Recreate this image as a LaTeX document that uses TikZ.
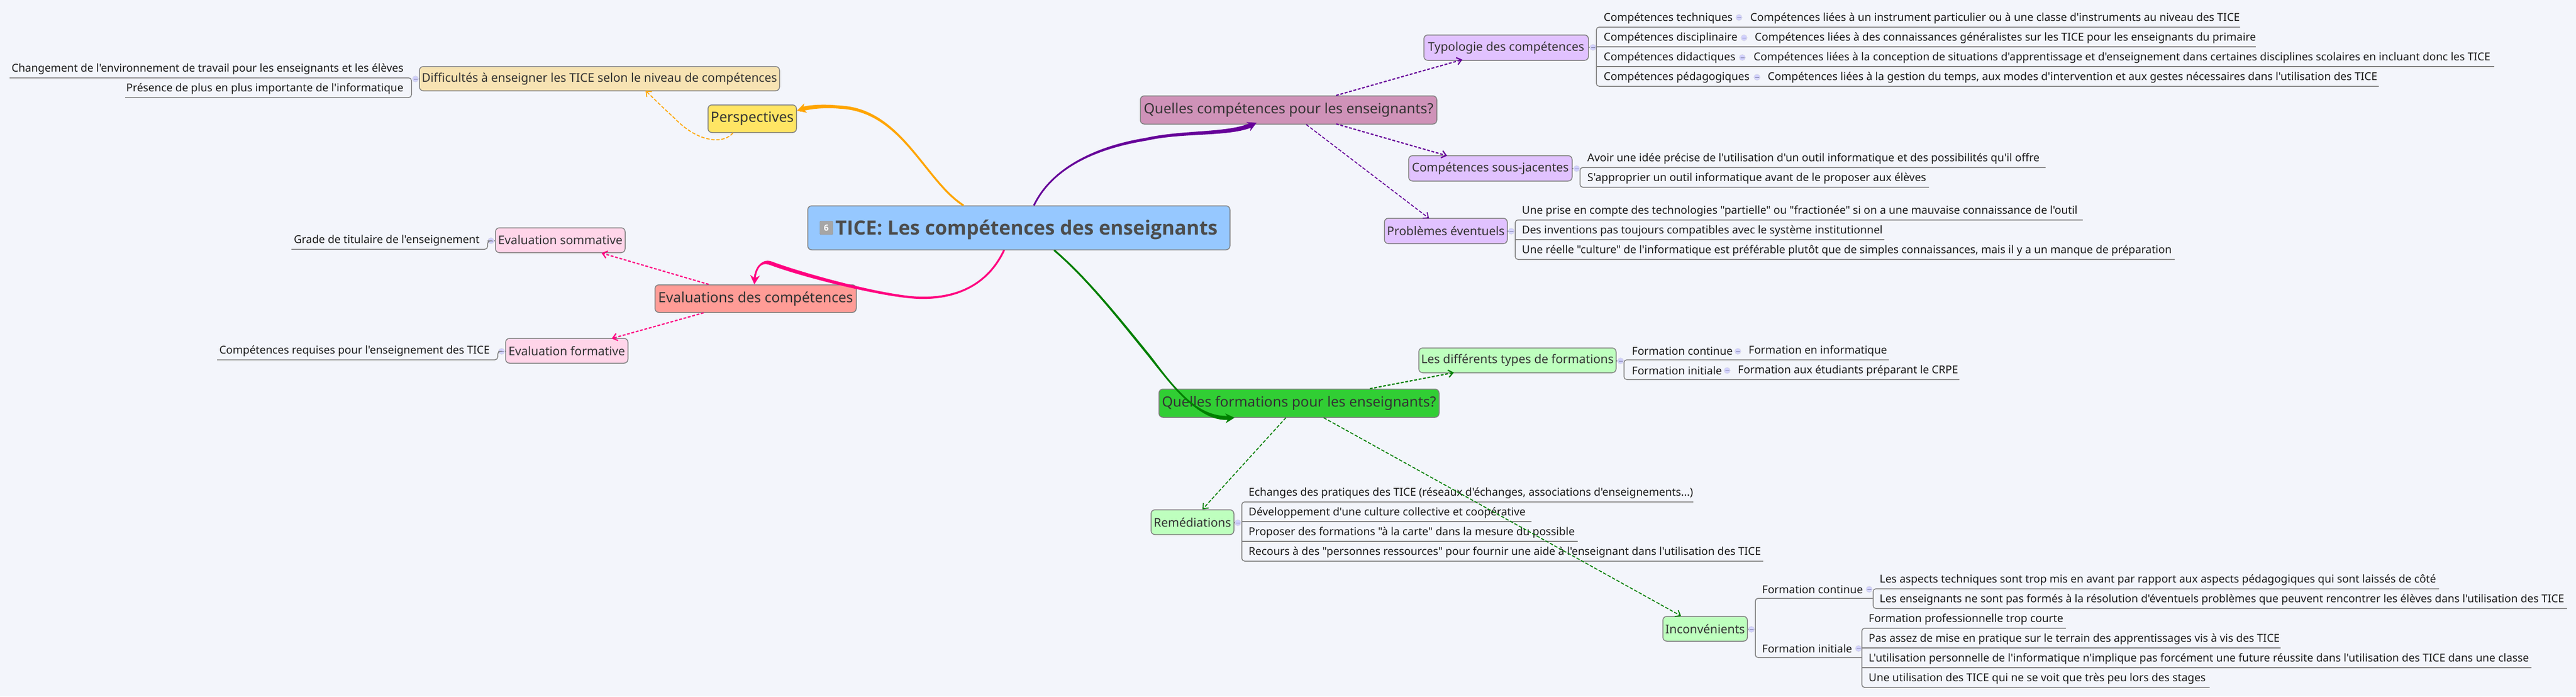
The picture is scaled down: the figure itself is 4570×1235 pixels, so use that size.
\documentclass[tikz,border=0pt]{standalone}
\usepackage{fontspec}
\setmainfont[Ligatures=TeXOff]{Noto Sans}
\newfontfamily\tfont[Ligatures=TeXOff]{Open Sans}
\usetikzlibrary{arrows.meta,calc,shapes.geometric}
\definecolor{bgc}{HTML}{F3F5FB}
\definecolor{rulec}{HTML}{808080}
\definecolor{orangec}{HTML}{FFA500}
\definecolor{purplec}{HTML}{660099}
\definecolor{greenc}{HTML}{007F00}
\definecolor{pinkc}{HTML}{FF0080}
\tikzset{
  boxn/.style={draw=rulec,line width=1.5pt,rounded corners=7pt,inner sep=0pt,text=black!80},
  big/.style={font=\fontsize{25}{30}\selectfont},
  mid/.style={font=\fontsize{21.3}{25}\selectfont},
  leaftxt/.style={font=\fontsize{19.3}{23}\selectfont,inner sep=0pt,text=black!90},
  rulel/.style={draw=rulec,line width=1.5pt},
  brack/.style={draw=rulec,line width=1.5pt,rounded corners=5pt},
  dotn/.style={circle,draw=blue!20!black!15,fill=blue!18!white,line width=0.6pt,minimum size=11pt,inner sep=0pt,
    path picture={\draw[blue!30!black!50,line width=0.8pt] ([xshift=2pt]path picture bounding box.west)--([xshift=-2pt]path picture bounding box.east);}},
  dashc/.style={line width=2.2pt,dash pattern=on 5pt off 3pt,-{Straight Barb[length=8pt,width=13pt]}},
  dashthin/.style={dashc,line width=1.7pt,dash pattern=on 6pt off 3pt},
  mainc/.style={line width=3pt,-{Stealth[length=16pt,width=17pt,inset=5pt]}},
}
% box given by its corners
\newcommand\bx[7]{%
  \pgfmathsetmacro\bw{#4-#2}\pgfmathsetmacro\bh{#5-#3}%
  \pgfmathsetmacro\bcx{(#4+#2)/2}\pgfmathsetmacro\bcy{(#5+#3)/2}%
  \node[boxn,#6,minimum width=\bw pt,minimum height=\bh pt] (#1) at (\bcx,\bcy) {#7};}
% leaf running to the right: name, bracket x, rule y, text x, rule end x, text
\newcommand\leafr[6]{%
  \pgfmathsetmacro\by{#3-11}%
  \node[leaftxt,anchor=base west] (#1) at (#4,\by) {#6};
  \coordinate (#1-l) at (#2,#3);\coordinate (#1-r) at (#5,#3);}
% first-column label sitting on a rule already given
\newcommand\lab[4]{\node[leaftxt,anchor=base west] (#1) at (#2,#3) {#4};}
\newcommand\hr[1]{\draw[rulel] (#1-l) -- (#1-r);}
\newcommand\brk[2]{\draw[brack] (#1-r) -- (#1-l) -- (#2-l) -- (#2-r);}
\newcommand\leafl[6]{%
  \pgfmathsetmacro\by{#3-11}%
  \node[leaftxt,anchor=base east] (#1) at (#4,\by) {#6};
  \coordinate (#1-l) at (#2,#3);\coordinate (#1-r) at (#5,#3);}
\newcommand\dotat[3]{\node[dotn] (#1) at (#2,#3) {};}
% tapered overlay: colour, p0, c1, c2, p1, half-width vector at p0, at p1
\newcommand\tseg[7]{\fill[#1] ($(#2)+(#6)$) .. controls ($(#3)+(#6)$) and ($(#4)+(#7)$) .. ($(#5)+(#7)$) -- ($(#5)-(#7)$) .. controls ($(#4)-(#7)$) and ($(#3)-(#6)$) .. ($(#2)-(#6)$) -- cycle;}
\begin{document}
\begin{tikzpicture}[x=1pt,y=-1pt]
\useasboundingbox (0,0) rectangle (4570,1235);
\fill[bgc] (0,0) rectangle (4570,1235);
% central
\bx{tice}{1433}{365}{2182}{443}{fill={rgb,255:red,150;green,200;blue,255}}{}
\node[draw=black!45,fill=black!35,rounded corners=2pt,minimum width=23pt,minimum height=24pt,inner sep=0pt,text=white,font=\tfont\bfseries\fontsize{15}{15}\selectfont] (ticon) at (1466,404) {6};
\node[font=\tfont\bfseries\fontsize{34.8}{40}\selectfont,text=black!70,inner sep=0pt,anchor=base west] (ttitle) at (1482,416) {TICE: Les compétences des enseignants};
% level 1
\bx{qc}{2023}{170}{2549}{220}{big,fill={rgb,255:red,207;green,146;blue,184}}{Quelles compétences pour les enseignants?}
\bx{qf}{2056}{690}{2553}{740}{big,fill={rgb,255:red,49;green,206;blue,52}}{Quelles formations pour les enseignants?}
\bx{evs}{1162}{505}{1519}{554}{big,fill={rgb,255:red,255;green,156;blue,150}}{Evaluations des compétences}
\bx{per}{1256}{186}{1413}{235}{big,fill={rgb,255:red,255;green,229;blue,100}}{Perspectives}
% level 2
\bx{dif}{744}{118}{1383}{161}{mid,fill={rgb,255:red,247;green,227;blue,179}}{Difficultés à enseigner les TICE selon le niveau de compétences}
\bx{som}{879}{404}{1109}{448}{mid,fill={rgb,255:red,255;green,213;blue,233}}{Evaluation sommative}
\bx{for}{897}{600}{1114}{644}{mid,fill={rgb,255:red,255;green,213;blue,233}}{Evaluation formative}
\bx{typ}{2526}{62}{2818}{107}{mid,fill={rgb,255:red,225;green,194;blue,255}}{Typologie des compétences}
\bx{sou}{2499}{276}{2789}{321}{mid,fill={rgb,255:red,225;green,194;blue,255}}{Compétences sous-jacentes}
\bx{pro}{2456}{387}{2674}{432}{mid,fill={rgb,255:red,225;green,194;blue,255}}{Problèmes éventuels}
\bx{tyf}{2517}{617}{2867}{661}{mid,fill={rgb,255:red,190;green,255;blue,190}}{Les différents types de formations}
\bx{rem}{2042}{904}{2189}{948}{mid,fill={rgb,255:red,190;green,255;blue,190}}{Remédiations}
\bx{inc}{2950}{1093}{3100}{1137}{mid,fill={rgb,255:red,190;green,255;blue,190}}{Inconvénients}
% Difficultés leaves
\leafl{a1}{730}{138}{716}{17}{Changement de l'environnement de travail pour les enseignants et les élèves}
\leafl{a2}{730}{173}{716}{222}{Présence de plus en plus importante de l'informatique}
\dotat{da}{737}{140}
\draw[rulel] (dif.west |- da) -- (da);
\brk{a1}{a2}
% Sommative / Formative leaves
\leafl{b1}{865}{442}{851}{517}{Grade de titulaire de l'enseignement}
\dotat{db}{871}{427}
\draw[rulel] (som.west |- db) -- (db);
\draw[brack] (db) -- (b1-l |- db) -- (b1-l) -- (b1-r);
\leafl{c1}{883}{638}{869}{385}{Compétences requises pour l'enseignement des TICE}
\dotat{dc}{890}{623}
\draw[rulel] (for.west |- dc) -- (dc);
\draw[brack] (dc) -- (c1-l |- dc) -- (c1-l) -- (c1-r);
% Typologie leaves
\leafr{t1}{2832}{48}{3105}{3974}{Compétences liées à un instrument particulier ou à une classe d'instruments au niveau des TICE}
\leafr{t2}{2832}{83}{3113}{4002}{Compétences liées à des connaissances généralistes sur les TICE pour les enseignants du primaire}
\leafr{t3}{2832}{118}{3111}{4425}{Compétences liées à la conception de situations d'apprentissage et d'enseignement dans certaines disciplines scolaires en incluant donc les TICE}
\leafr{t4}{2832}{153}{3136}{4220}{Compétences liées à la gestion du temps, aux modes d'intervention et aux gestes nécessaires dans l'utilisation des TICE}
\lab{tl1}{2845}{37}{Compétences techniques}
\lab{tl2}{2845}{72}{Compétences disciplinaire}
\lab{tl3}{2845}{107}{Compétences didactiques}
\lab{tl4}{2845}{142}{Compétences pédagogiques}
\dotat{dt}{2826}{84}\dotat{dt1}{3085}{31}\dotat{dt2}{3094}{67}\dotat{dt3}{3091}{102}\dotat{dt4}{3117}{137}
\draw[rulel] (typ.east |- dt) -- (dt);
\draw[rulel] (dt) -- (t2-l);
\brk{t1}{t4}\hr{t2}\hr{t3}
% Sous-jacentes leaves
\leafr{s1}{2803}{297}{2816}{3629}{Avoir une idée précise de l'utilisation d'un outil informatique et des possibilités qu'il offre}
\leafr{s2}{2803}{332}{2816}{3422}{S'approprier un outil informatique avant de le proposer aux élèves}
\dotat{ds}{2797}{299}
\draw[rulel] (sou.east |- ds) -- (ds);
\brk{s1}{s2}
% Problèmes leaves
\leafr{p1}{2688}{390}{2700}{3695}{Une prise en compte des technologies "partielle" ou "fractionée" si on a une mauvaise connaissance de l'outil}
\leafr{p2}{2688}{425}{2700}{3343}{Des inventions pas toujours compatibles avec le système institutionnel}
\leafr{p3}{2688}{460}{2700}{3858}{Une réelle "culture" de l'informatique est préférable plutôt que de simples connaissances, mais il y a un manque de préparation}
\dotat{dp}{2681}{410}
\draw[rulel] (pro.east |- dp) -- (dp);
\brk{p1}{p3}\hr{p2}
% types de formations leaves
\leafr{f1}{2881}{638}{3102}{3351}{Formation en informatique}
\leafr{f2}{2881}{673}{3083}{3476}{Formation aux étudiants préparant le CRPE}
\lab{fl1}{2895}{629}{Formation continue}
\lab{fl2}{2895}{664}{Formation initiale}
\dotat{df}{2875}{640}\dotat{df1}{3083}{623}\dotat{df2}{3064}{657}
\draw[rulel] (tyf.east |- df) -- (df);
\brk{f1}{f2}
% Remédiations leaves
\leafr{r1}{2203}{890}{2215}{3004}{Echanges des pratiques des TICE (réseaux d'échanges, associations d'enseignements...)}
\leafr{r2}{2203}{925}{2215}{2717}{Développement d'une culture collective et coopérative}
\leafr{r3}{2203}{960}{2215}{2799}{Proposer des formations "à la carte" dans la mesure du possible}
\leafr{r4}{2203}{995}{2215}{3128}{Recours à des "personnes ressources" pour fournir une aide à l'enseignant dans l'utilisation des TICE}
\dotat{dr}{2196}{927}
\draw[rulel] (rem.east |- dr) -- (dr);
\brk{r1}{r4}\hr{r2}\hr{r3}
% Inconvénients leaves
\leafr{i1}{3323}{1044}{3334.5}{4327}{Les aspects techniques sont trop mis en avant par rapport aux aspects pédagogiques qui sont laissés de côté}
\leafr{i2}{3323}{1079}{3334.5}{4554}{Les enseignants ne sont pas formés à la résolution d'éventuels problèmes que peuvent rencontrer les élèves dans l'utilisation des TICE}
\leafr{j1}{3303}{1114}{3315}{3665}{Formation professionnelle trop courte}
\leafr{j2}{3303}{1149}{3315}{4046}{Pas assez de mise en pratique sur le terrain des apprentissages vis à vis des TICE}
\leafr{j3}{3303}{1184}{3315}{4491}{L'utilisation personnelle de l'informatique n'implique pas forcément une future réussite dans l'utilisation des TICE dans une classe}
\leafr{j4}{3303}{1219}{3315}{3920}{Une utilisation des TICE qui ne se voit que très peu lors des stages}
\lab{il1}{3126}{1052}{Formation continue}
\lab{il2}{3126}{1157}{Formation initiale}
\coordinate (ic-l) at (3114,1061);\coordinate (ic-r) at (3323,1061);
\coordinate (ii-l) at (3114,1166);\coordinate (ii-r) at (3303,1166);
\dotat{di}{3107}{1116}\dotat{di1}{3316}{1045}\dotat{di2}{3297}{1150}
\draw[rulel] (inc.east |- di) -- (di) -- (ic-l |- di);
\brk{ic}{ii}
\brk{i1}{i2}
\brk{j1}{j4}\hr{j2}\hr{j3}
% dashed sub-branches
\draw[dashthin,orangec] ($(per.south west)+(45,0)$) .. controls (1285,255) and (1240,255) .. (1196,209) .. controls (1175,190) and (1160,175) .. ($(dif.south west)+(402,-1)$);
\draw[dashc,pinkc] ($(evs.north west)+(96,0)$) -- ($(som.south west)+(189,0)$);
\draw[dashc,pinkc] ($(evs.south west)+(87,0)$) -- ($(for.north west)+(189,1)$);
\draw[dashc,purplec] ($(qc.north west)+(348,0)$) -- ($(typ.south west)+(69,-2)$);
\draw[dashc,purplec] ($(qc.south west)+(348,-1)$) -- ($(sou.north west)+(69,1)$);
\draw[dashthin,purplec] ($(qc.south west)+(295,0)$) -- ($(pro.north west)+(80,1)$);
\draw[dashc,greenc] ($(qf.north west)+(375,0)$) -- ($(tyf.south west)+(63,-1)$);
\draw[dashthin,greenc] ($(qf.south west)+(226,0)$) -- ($(rem.north west)+(92,0)$);
\draw[dashthin,greenc] ($(qf.south west)+(293,0)$) -- ($(inc.north west)+(33,0)$);
% main branches
\coordinate (os) at ($(tice.north west)+(277,0)$);
\coordinate (om) at (1490,190);
\coordinate (oe) at ($(per.north east)+(0,11)$);
\draw[mainc,orangec] (os) .. controls (1640,320) and (1600,195) .. (om) .. controls (1460,187) and (1435,190) .. (oe);
\tseg{orangec}{os}{1640,320}{1600,195}{om}{1,-1.2}{0,-2.8}
\tseg{orangec}{om}{1460,187}{1435,190}{1420,194}{0,-2.8}{1,-4}
\coordinate (ps) at ($(tice.north west)+(402,0)$);
\coordinate (pm) at (2033,247);
\coordinate (pe) at ($(qc.south west)+(207,-3)$);
\draw[mainc,purplec] (ps) .. controls (1865,300) and (1940,262) .. (pm) .. controls (2100,232) and (2180,240) .. (pe);
\tseg{purplec}{ps}{1865,300}{1940,262}{pm}{1,.4}{.8,2.4}
\tseg{purplec}{pm}{2100,232}{2180,240}{2222,221}{.8,2.4}{1.7,3.6}
\coordinate (gs) at ($(tice.south west)+(438,0)$);
\coordinate (gm) at (2038,630);
\coordinate (ge) at ($(qf.south west)+(135,0)$);
\draw[mainc,greenc] (gs) .. controls (1930,495) and (1985,565) .. (gm) .. controls (2070,670) and (2120,745) .. (ge);
\tseg{greenc}{gs}{1930,495}{1985,565}{gm}{1,-1}{1.6,-1.2}
\tseg{greenc}{gm}{2070,670}{2120,745}{2180,741}{1.6,-1.2}{0,3.6}
\coordinate (ks) at ($(tice.south west)+(349,0)$);
\coordinate (km) at (1630,528);
\coordinate (kn) at (1368,467);
\coordinate (ke) at ($(evs.north west)+(177,0)$);
\draw[mainc,pinkc] (ks) .. controls (1750,510) and (1690,530) .. (km) .. controls (1570,526) and (1430,490) .. (kn) .. controls (1348,459.5) and (1340,480) .. (ke);
\tseg{pinkc}{ks}{1750,510}{1690,530}{km}{1.3,.8}{0,2}
\tseg{pinkc}{km}{1570,526}{1430,490}{kn}{0,2}{-1.2,3.2}
\tseg{pinkc}{kn}{1348,459.5}{1340,480}{1339,492}{-1.2,3.2}{1.5,0}
\end{tikzpicture}
\end{document}
